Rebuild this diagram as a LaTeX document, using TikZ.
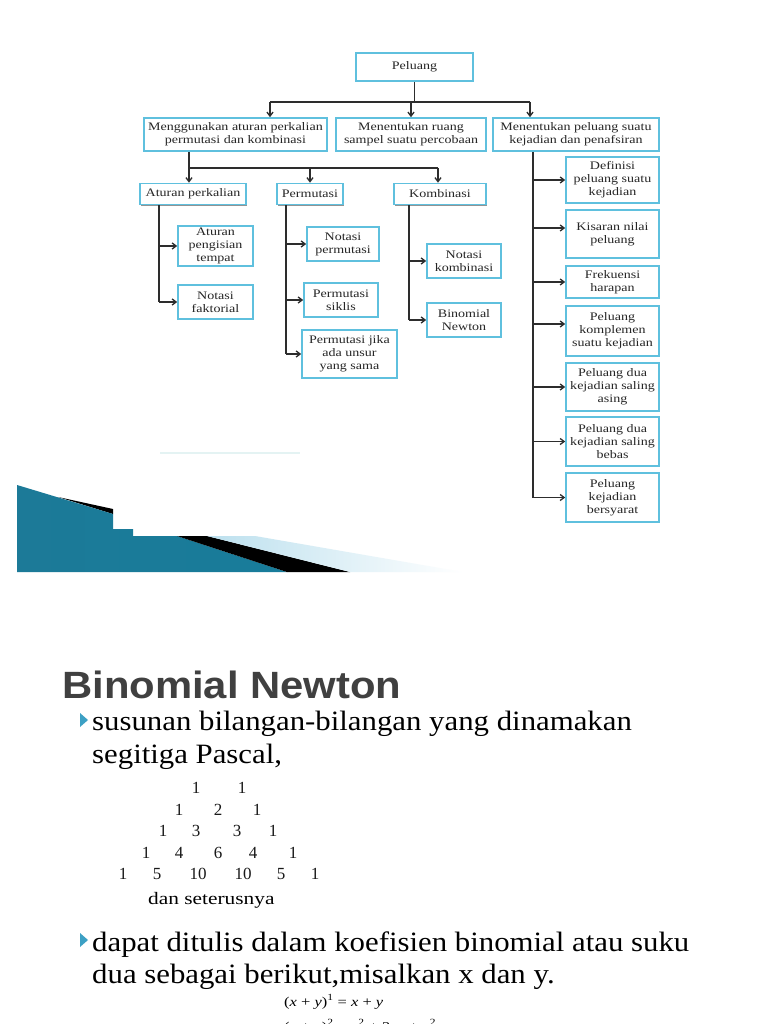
\documentclass[tikz,border=0pt]{standalone}
\usepackage{fontspec}
\setmainfont{Liberation Serif}
\newfontfamily\boxfont[FakeStretch=1.22]{Liberation Serif}
\newfontfamily\bodyfont[FakeStretch=1.1]{Liberation Serif}
\newfontfamily\titlefont[FakeStretch=1.1]{Liberation Sans}
\usetikzlibrary{arrows.meta,shadows}
\definecolor{boxcyan}{RGB}{95,192,222}
\definecolor{linegray}{RGB}{45,45,45}
\definecolor{tealdark}{RGB}{28,122,152}
\definecolor{teallight}{RGB}{92,184,214}
\definecolor{tealright}{RGB}{24,124,154}
\definecolor{gridblue}{RGB}{188,224,238}
\definecolor{bullteal}{RGB}{60,160,196}
\definecolor{titlegray}{RGB}{64,64,64}
\definecolor{faintcyan}{RGB}{228,243,243}
\begin{document}
\begin{tikzpicture}[x=1pt,y=-1pt,
  bx/.style={draw=boxcyan, line width=1.6pt, fill=white, align=center, inner sep=1pt,
    font=\boxfont\fontsize{11.5}{13}\selectfont, text=black!85,
    drop shadow={shadow xshift=1.2pt, shadow yshift=-1.2pt, fill=black!60, opacity=0.7}},
  rbx/.style={bx, minimum width=93},
  ln/.style={draw=linegray, line width=1.3pt},
  ar/.style={ln, -{Straight Barb[length=4pt,width=6pt]}},
  body/.style={anchor=base west, inner sep=0, font=\bodyfont\fontsize{28}{33}\selectfont, text=black},
  num/.style={anchor=base, inner sep=0, font=\fontsize{17}{17}\selectfont, text=black!90},
  bull/.style={fill=bullteal}
]
\clip (0,0) rectangle (768,1024);
\fill[white] (0,0) rectangle (768,1024);

% ---------- top diagram ----------
\node[bx, minimum width=117, minimum height=28] (pel) at (414.5,67) {Peluang};
\node[bx, minimum width=183, minimum height=33] (m1) at (235.5,134.5) {Menggunakan aturan perkalian\\permutasi dan kombinasi};
\node[bx, minimum width=150, minimum height=33] (m2) at (411,134.5) {Menentukan ruang\\sampel suatu percobaan};
\node[bx, minimum width=166, minimum height=33] (m3) at (576,134.5) {Menentukan peluang suatu\\kejadian dan penafsiran};

\node[bx, minimum width=106, minimum height=21] (atp) at (193,194) {Aturan perkalian};
\node[bx, minimum width=66, minimum height=21] (per) at (310,194) {Permutasi};
\node[bx, minimum width=92, minimum height=21] (kom) at (440,194) {Kombinasi};

\node[bx, minimum width=75, minimum height=40] (ape) at (215.5,246) {Aturan\\pengisian\\tempat};
\node[bx, minimum width=75, minimum height=34] (nf) at (215.5,302) {Notasi\\faktorial};
\node[bx, minimum width=72, minimum height=34] (np) at (343,244) {Notasi\\permutasi};
\node[bx, minimum width=74, minimum height=34] (ps) at (341,300) {Permutasi\\siklis};
\node[bx, minimum width=95, minimum height=48] (pj) at (349.5,354) {Permutasi jika\\ada unsur\\yang sama};
\node[bx, minimum width=74, minimum height=34] (nk) at (464,261) {Notasi\\kombinasi};
\node[bx, minimum width=74, minimum height=34] (bn) at (464,320) {Binomial\\Newton};

\node[rbx, minimum height=46] (d1) at (612.5,180) {Definisi\\peluang suatu\\kejadian};
\node[rbx, minimum height=48] (d2) at (612.5,234) {Kisaran nilai\\peluang};
\node[rbx, minimum height=32] (d3) at (612.5,282) {Frekuensi\\harapan};
\node[rbx, minimum height=50] (d4) at (612.5,331) {Peluang\\komplemen\\suatu kejadian};
\node[rbx, minimum height=48] (d5) at (612.5,387) {Peluang dua\\kejadian saling\\asing};
\node[rbx, minimum height=49] (d6) at (612.5,441.5) {Peluang dua\\kejadian saling\\bebas};
\node[rbx, minimum height=49] (d7) at (612.5,497.5) {Peluang\\kejadian\\bersyarat};

% connectors level 1
\coordinate (h0l) at (270,102);
\coordinate (h0r) at (530,102);
\draw[ln] (pel.south) -- (pel.south |- h0l);
\draw[ln, line width=1.6pt] (h0l) -- (h0r);
\draw[ar] (h0l) -- (h0l |- m1.north);
\draw[ar] (m2.north |- h0l) -- (m2.north);
\draw[ar] (h0r) -- (h0r |- m3.north);

% connectors level 2
\coordinate (h1l) at (189,168);
\coordinate (h1r) at (438,168);
\draw[ln] (h1l |- m1.south) -- (h1l);
\draw[ln, line width=1.6pt] (h1l) -- (h1r);
\draw[ar] (h1l) -- (h1l |- atp.north);
\draw[ar] (per.north |- h1l) -- (per.north);
\draw[ar] (h1r) -- (h1r |- kom.north);

% Aturan perkalian branch
\draw[ln] (159,0 |- atp.south) -- (159,0 |- nf.west);
\draw[ar] (159,0 |- ape.west) -- (ape.west);
\draw[ar] (159,0 |- nf.west) -- (nf.west);

% Permutasi branch
\draw[ln] (286,0 |- per.south) -- (286,0 |- pj.west);
\draw[ar] (286,0 |- np.west) -- (np.west);
\draw[ar] (286,0 |- ps.west) -- (ps.west);
\draw[ar] (286,0 |- pj.west) -- (pj.west);

% Kombinasi branch
\draw[ln] (409,0 |- kom.south) -- (409,0 |- bn.west);
\draw[ar] (409,0 |- nk.west) -- (nk.west);
\draw[ar] (409,0 |- bn.west) -- (bn.west);

% right branch
\draw[ln] (533,0 |- m3.south) -- (533,0 |- d7.west);
\draw[ar] (533,0 |- d1.west) -- (d1.west);
\draw[ar] (533,228) -- (d2.west |- 0,228);
\draw[ar] (533,0 |- d3.west) -- (d3.west);
\draw[ar] (533,324) -- (d4.west |- 0,324);
\draw[ar] (533,0 |- d5.west) -- (d5.west);
\draw[ar] (533,0 |- d6.west) -- (d6.west);
\draw[ar] (533,0 |- d7.west) -- (d7.west);

% faint line
\draw[faintcyan, line width=2pt] (160,453) -- (300,453);

% ---------- slide decoration ----------
\fill[black] (58,497) -- (113,509) -- (113,514) -- cycle;
\shade[left color=tealdark, middle color=teallight, right color=tealright]
  (17,485) -- (113,514) -- (113,529) -- (133,529) -- (133,536) -- (177,536) -- (287,572) -- (17,572) -- cycle;
\fill[black] (177,536) -- (207,536) -- (350,572) -- (287,572) -- cycle;
\shade[left color=gridblue, right color=white] (207,536) -- (255,536) -- (463,572) -- (350,572) -- cycle;

% ---------- lower text ----------
\node[anchor=base west, inner sep=0, font=\titlefont\bfseries\fontsize{38}{38}\selectfont, text=titlegray] (title) at (62,698) {Binomial Newton};

\fill[bull] (80,713) -- (88,720) -- (80,727) -- cycle;
\node[body] (b1a) at (92,730) {susunan bilangan-bilangan yang dinamakan};
\node[body] (b1b) at (92,763) {segitiga Pascal,};

% Pascal triangle
\node[num] (r11) at (196,793) {1};
\node[num] (r12) at (242,793) {1};
\node[num] (r21) at (179,815) {1};
\node[num] (r22) at (218,815) {2};
\node[num] (r23) at (257,815) {1};
\node[num] (r31) at (163,836) {1};
\node[num] (r32) at (196,836) {3};
\node[num] (r33) at (237,836) {3};
\node[num] (r34) at (273,836) {1};
\node[num] (r41) at (146,858) {1};
\node[num] (r42) at (179,858) {4};
\node[num] (r43) at (218,858) {6};
\node[num] (r44) at (253,858) {4};
\node[num] (r45) at (293,858) {1};
\node[num] (r51) at (123,879) {1};
\node[num] (r52) at (157,879) {5};
\node[num] (r53) at (198,879) {10};
\node[num] (r54) at (243,879) {10};
\node[num] (r55) at (281,879) {5};
\node[num] (r56) at (315,879) {1};
\node[anchor=base west, inner sep=0, font=\boxfont\fontsize{17.5}{17.5}\selectfont] (dst) at (148,904) {dan seterusnya};

\fill[bull] (80,933) -- (88,940) -- (80,947) -- cycle;
\node[body] (b2a) at (92,951) {dapat ditulis dalam koefisien binomial atau suku};
\node[body] (b2b) at (92,983) {dua sebagai berikut,misalkan x dan y.};

\node[anchor=base west, inner sep=0, font=\boxfont\fontsize{13.5}{13.5}\selectfont] (f1) at (284,1006)
  {(\textit{x} + \textit{y})\textsuperscript{1} = \textit{x} + \textit{y}};
\node[anchor=base west, inner sep=0, font=\boxfont\fontsize{13.5}{13.5}\selectfont] (f2) at (284,1031)
  {(\textit{x} + \textit{y})\textsuperscript{2} = \textit{x}\textsuperscript{2} + 2\textit{xy} + \textit{y}\textsuperscript{2}};
\end{tikzpicture}
\end{document}
